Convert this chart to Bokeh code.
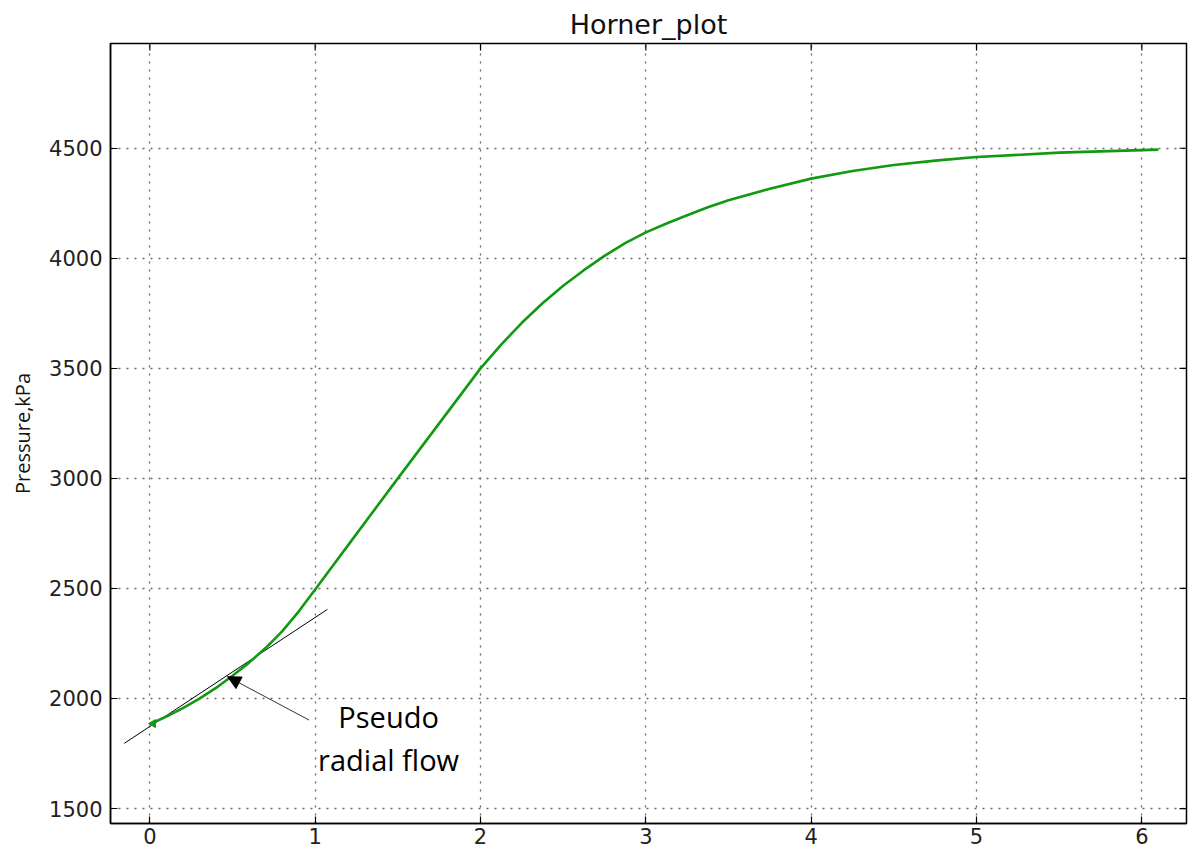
import math
from bokeh.plotting import figure
from bokeh.models import Range1d, Arrow, NormalHead, Label, FixedTicker
from bokeh.embed import file_html
from bokeh.resources import INLINE

# ---- data ----
x_vals = [0.0, 0.1, 0.2, 0.3, 0.4, 0.5, 0.6, 0.7, 0.8, 0.9, 1.0, 1.25, 1.5, 1.75,
          2.0, 2.125, 2.25, 2.375, 2.5, 2.625, 2.75, 2.875, 3.0, 3.125, 3.25, 3.375,
          3.5, 3.75, 4.0, 4.25, 4.5, 4.75, 5.0, 5.5, 6.1]
p_vals = [1883, 1918, 1956, 1999, 2048, 2103, 2163, 2229, 2305, 2395, 2495, 2748, 3000, 3250,
          3500, 3608, 3707, 3796, 3875, 3946, 4011, 4069, 4118, 4158, 4196, 4232,
          4264, 4316, 4362, 4397, 4424, 4444, 4460, 4480, 4494]

tangent_x = [-0.155, 1.074]
tangent_p = [1796, 2405]

arrow_start = (0.963, 1902)
arrow_end = (0.47, 2099)

start_marker_x = [0.02]
start_marker_p = [1886]

x_ticks = [0, 1, 2, 3, 4, 5, 6]
y_ticks = [1500, 2000, 2500, 3000, 3500, 4000, 4500]

x_lo, x_hi = -0.238, 6.27
y_lo, y_hi = 1432, 4976

note_lines = ["Pseudo", "radial flow"]
note_x = 1.444
note_p = [1917, 1722]

title_text = "Horner_plot"
y_label = "Pressure,kPa"

# ---- figure ----
p = figure(width=1190, height=853,
           x_range=Range1d(x_lo, x_hi), y_range=Range1d(y_lo, y_hi),
           output_backend="svg", toolbar_location=None,
           min_border_left=110, min_border_top=43, min_border_right=4,
           min_border_bottom=30)
p.background_fill_color = "white"
p.border_fill_color = "white"
p.outline_line_color = "black"
p.outline_line_width = 1.5

p.title.text = title_text
p.title.align = "center"
p.title.text_font = "DejaVu Sans"
p.title.text_font_size = "27px"
p.title.text_font_style = "normal"
p.title.text_color = "#111111"
p.title.standoff = 8

for ax in (p.xaxis[0], p.yaxis[0]):
    ax.major_tick_in = 7
    ax.major_tick_out = 0
    ax.minor_tick_line_color = None
    ax.axis_line_color = "black"
    ax.axis_line_width = 1.5
    ax.major_tick_line_color = "black"
    ax.major_tick_line_width = 1.2
    ax.major_label_text_font = "DejaVu Sans"
    ax.major_label_text_font_size = "21px"
    ax.major_label_text_color = "#222222"
p.xaxis.major_label_standoff = 4
p.yaxis.major_label_standoff = 8

p.xaxis.ticker = FixedTicker(ticks=x_ticks)
p.yaxis.ticker = FixedTicker(ticks=y_ticks)
p.yaxis.axis_label = y_label
p.yaxis.axis_label_text_font = "Open Sans"
p.yaxis.axis_label_text_font_size = "20px"
p.yaxis.axis_label_text_font_style = "normal"
p.yaxis.axis_label_text_color = "#111111"
p.yaxis.axis_label_standoff = 10

# inward ticks on the top and right edges (matplotlib classic style)
p.ray(x=x_ticks, y=[y_hi] * len(x_ticks), length=7, length_units="screen",
      angle=-math.pi / 2, line_color="black", line_width=1.2)
p.ray(x=[x_hi] * len(y_ticks), y=y_ticks, length=7, length_units="screen",
      angle=math.pi, line_color="black", line_width=1.2)

p.xgrid.ticker = FixedTicker(ticks=x_ticks)
p.ygrid.ticker = FixedTicker(ticks=y_ticks)
for g in (p.xgrid[0], p.ygrid[0]):
    g.grid_line_color = "#666666"
    g.grid_line_width = 1.3
    g.grid_line_dash = "2 6"

# tangent line
p.line(tangent_x, tangent_p, line_color="black", line_width=1)
# main curve
p.line(x_vals, p_vals, line_color="#119911", line_width=2.6, line_join="round")
p.scatter(start_marker_x, start_marker_p, marker="triangle", angle=math.pi / 2,
          size=8, fill_color="#119911", line_color="#119911")

# arrow annotation
p.add_layout(Arrow(end=NormalHead(size=13, fill_color="black", line_color="black"),
                   x_start=arrow_start[0], y_start=arrow_start[1],
                   x_end=arrow_end[0], y_end=arrow_end[1],
                   line_color="#333333", line_width=1))

for txt, yy in zip(note_lines, note_p):
    p.add_layout(Label(x=note_x, y=yy, text=txt, text_align="center",
                       text_baseline="alphabetic", text_font="Open Sans",
                       text_font_size="29px", text_color="black"))

open("out.html", "w").write(file_html(p, INLINE))
